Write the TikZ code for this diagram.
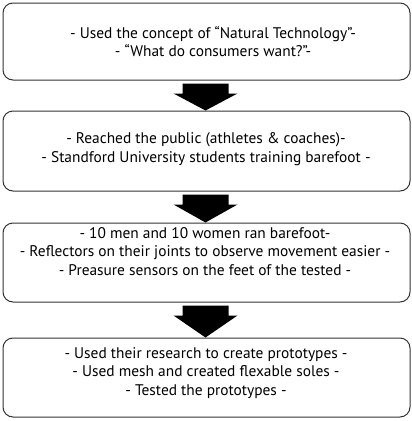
\documentclass[tikz,border=0pt]{standalone}
\usepackage{fontspec}
\setmainfont{PT Sans}
\usetikzlibrary{calc}
\tikzset{
  box/.style={draw=black!80, line width=1pt, rounded corners=10pt, minimum width=407pt, inner sep=0pt},
  txt/.style={align=center, font=\fontsize{15.4}{18.4}\selectfont, inner sep=0pt, anchor=base},
  blockarrow/.style={fill=black, draw=none}
}
\newcommand{\barrow}[2]{%
  \fill[blockarrow] ($(#1.south)+(-24pt,-3pt)$) -- ($(#1.south)+(22pt,-3pt)$) -- ($(#1.south)+(22pt,-13pt)$) --
    ($(#1.south)+(31pt,-13pt)$) -- ($(#2.north)+(-1pt,0pt)$) -- ($(#1.south)+(-33pt,-13pt)$) --
    ($(#1.south)+(-24pt,-13pt)$) -- cycle;}
\begin{document}
\begin{tikzpicture}[x=1pt,y=-1pt]
\useasboundingbox (0,0) rectangle (412,421);
\node[box, minimum height=77pt] (b1) at (206.5,41.5) {};
\node[box, minimum height=80pt] (b2) at (206.5,151) {};
\node[box, minimum height=79pt] (b3) at (206.5,262.5) {};
\node[box, minimum height=79pt] (b4) at (206.5,377.5) {};
\node[txt] (t1) at (213,56.7) {- Used the concept of ``Natural Technology''-\\- ``What do consumers want?''-};
\node[txt] (t2) at (206,162.3) {- Reached the public (athletes \& coaches)-\\- Standford University students training barefoot -};
\node[txt] (t3) at (205,275) {- 10 men and 10 women ran barefoot-\\- Reflectors on their joints to observe movement easier -\\- Preasure sensors on the feet of the tested -};
\node[txt] (t4) at (206,395) {- Used their research to create prototypes -\\- Used mesh and created flexable soles -\\- Tested the prototypes -};
\barrow{b1}{b2}
\barrow{b2}{b3}
\barrow{b3}{b4}
\end{tikzpicture}
\end{document}
